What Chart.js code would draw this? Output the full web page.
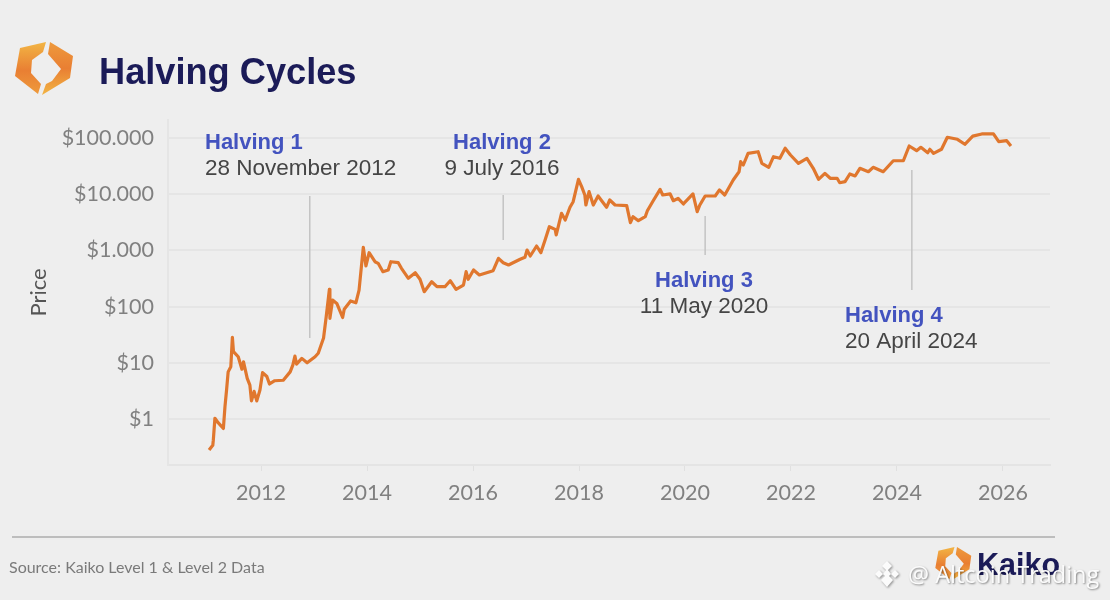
<!DOCTYPE html>
<html><head><meta charset="utf-8">
<script src="https://cdn.jsdelivr.net/npm/chart.js@4"></script>
<style>
html,body{margin:0;padding:0;background:#eeeeee;width:1110px;height:600px;overflow:hidden}
#wrap{position:relative;width:1110px;height:600px;filter:blur(.5px)}
canvas{position:absolute;left:0;top:0}
.t{position:absolute;white-space:nowrap;line-height:1}
#title{left:99px;top:51px;font:bold 36.2px "Liberation Sans",sans-serif;color:#1b1b58}
#source{left:9px;top:557px;font:16px Lato,sans-serif;color:#7a7a7a}
#rule{position:absolute;left:12px;top:536px;width:1043px;height:2px;background:#bdbdbd}
#kaiko{left:977px;top:547px;font:bold 30.5px "Liberation Sans",sans-serif;color:#1b1b58}
#mark{left:908px;top:558px;font:23.5px "Open Sans",sans-serif;color:#fbfbfb;text-shadow:1px 1px 2px rgba(0,0,0,.45)}
svg{position:absolute;left:0;top:0}
</style></head><body>
<div id="wrap">
<canvas id="c" width="1110" height="600"></canvas>
<svg width="1110" height="600">
 <defs>
  <linearGradient id="g1" x1="0" y1="0" x2="0" y2="1"><stop offset="0" stop-color="#f2b544"/><stop offset=".55" stop-color="#e97f33"/><stop offset="1" stop-color="#ee9a3c"/></linearGradient>
  <linearGradient id="g2" x1="0" y1="0" x2="0" y2="1"><stop offset="0" stop-color="#ee9a3c"/><stop offset=".5" stop-color="#e97f33"/><stop offset="1" stop-color="#f2b544"/></linearGradient>
  <g id="logo">
   <polygon fill="url(#g1)" points="20,48 46,42 43,52 32,60 31,73 41,84 38,94 15,76"/>
   <polygon fill="url(#g2)" points="50,42 73,56 70,78 42,95 46,84 52,81 61,69 48,54"/>
  </g>
 </defs>
 <use href="#logo"/>
 <use href="#logo" transform="translate(926 521) scale(.62)"/>
</svg>
<div class="t" id="title">Halving Cycles</div>
<div id="rule"></div>
<div class="t" id="source">Source: Kaiko Level 1 &amp; Level 2 Data</div>
<div class="t" id="kaiko">Kaiko</div>
<svg width="1110" height="600">
 <g fill="#fbfbfb" style="filter:drop-shadow(1px 1px 1px rgba(0,0,0,.4))">
  <polygon points="887,561 892,566 887,571 882,566"/>
  <polygon points="879,570 883,574 879,578 875,574"/>
  <polygon points="895,570 899,574 895,578 891,574"/>
  <polygon points="887,569 891,574 887,578 883,574"/>
  <polygon points="881,580 887,574 893,580 887,587"/>
 </g>
</svg>
<div class="t" id="mark">@ Altcoin Trading</div>
</div>
<script>
const years = [
2011.02,2011.09,2011.10,2011.13,2011.19,2011.29,2011.32,2011.35,2011.38,2011.43,2011.46,2011.48,2011.57,2011.64,2011.67,2011.74,2011.79,2011.82,2011.87,2011.92,2011.98,
2012.03,2012.11,2012.16,2012.26,2012.42,2012.55,2012.60,2012.64,2012.67,2012.77,2012.87,
2013.02,2013.08,2013.18,2013.23,2013.29,2013.30,2013.35,2013.43,2013.54,2013.57,2013.69,2013.79,2013.85,2013.93,2013.98,
2014.04,2014.15,2014.21,2014.30,2014.40,2014.45,2014.59,2014.65,2014.78,2014.91,
2015.00,2015.08,2015.22,2015.32,2015.47,2015.57,2015.68,2015.82,2015.87,2015.91,
2016.01,2016.12,2016.38,2016.48,2016.57,2016.67,2016.89,2016.98,
2017.02,2017.08,2017.20,2017.28,2017.36,2017.44,2017.55,2017.57,2017.67,2017.74,2017.83,2017.89,2017.99,
2018.05,2018.11,2018.13,2018.19,2018.27,2018.36,2018.52,2018.58,2018.68,2018.90,2018.97,
2019.02,2019.12,2019.25,2019.29,2019.40,2019.53,2019.58,2019.72,2019.78,2019.87,2019.97,
2020.15,2020.23,2020.28,2020.38,2020.57,2020.65,2020.75,2020.91,
2021.02,2021.05,2021.10,2021.19,2021.38,2021.45,2021.58,2021.67,2021.79,2021.89,2021.99,
2022.14,2022.30,2022.42,2022.52,2022.64,2022.74,2022.87,2022.92,
2023.02,2023.11,2023.21,2023.30,2023.46,2023.55,2023.74,2023.93,
2024.12,2024.23,2024.37,2024.45,2024.58,2024.62,2024.69,2024.84,2024.95,
2025.14,2025.28,2025.43,2025.60,2025.82,2025.92,2026.07,2026.15];
const prices = [
0.28,0.34,0.42,1.03,0.86,0.68,1.66,3.28,6.9,8.5,28.4,15.8,12.8,7.7,10.4,5.3,4.0,2.1,3.1,2.1,3.28,
6.7,5.7,4.2,4.8,4.9,6.9,9.1,13.2,9.5,12,10,
12.8,14.8,27.6,66,203,62,131,114,64,90,126,117,197,1135,528,
910,629,589,418,448,629,604,480,319,401,
306,184,277,226,226,289,203,242,418,306,
448,365,435,723,604,550,695,753,
1016,795,1197,910,1530,2640,2370,1880,4570,3475,5850,7360,18400,
13600,9680,6420,11100,6420,9290,5850,7880,6420,6240,3110,
3980,3375,3980,5080,7660,12200,9680,10100,7660,8450,6700,
10100,4880,6420,9290,9290,11900,9680,17900,
25100,37900,33100,53400,57000,35500,30100,46500,43500,65600,49800,
35500,43500,28900,18400,23500,19200,19200,16000,
16700,22900,21100,28900,25100,30100,25100,39400,
39400,72000,59400,68300,54700,63000,53400,63000,103000,
94800,77300,108000,118000,118000,85900,89500,72000];
const yTickValues = [1,10,100,1000,10000,100000];
const yTickLabels = ["$1","$10","$100","$1.000","$10.000","$100.000"];
const xTickValues = [2012,2014,2016,2018,2020,2022,2024,2026];
const halvingYears = [2012.92,2016.57,2020.38,2024.28];
const halvingLineTops = [9290,9680,4090,26900];
const halvingLineBottoms = [27.6,1530,828,197];
const halvingNames = ["Halving 1","Halving 2","Halving 3","Halving 4"];
const halvingDates = ["28 November 2012","9 July 2016","11 May 2020","20 April 2024"];

const labelPlugin = {
  id:'halvingLabels',
  afterDatasetsDraw(chart){
    const c = chart.ctx;
    const place = [[205,'left',143,169],[502,'center',143,169],[704,'center',281,307],[845,'left',316,342]];
    c.save(); c.textBaseline='middle';
    place.forEach((p,i)=>{
      c.textAlign=p[1];
      c.font='bold 22px "Liberation Sans",sans-serif'; c.fillStyle='#4353bf';
      c.fillText(halvingNames[i],p[0],p[2]);
      c.font='22.5px "Liberation Sans",sans-serif'; c.fillStyle='#454545';
      c.fillText(halvingDates[i],p[0],p[3]);
    });
    c.restore();
  }
};
const halvingSets = halvingYears.map((yr,i)=>({
  data:[{x:yr,y:halvingLineTops[i]},{x:yr,y:halvingLineBottoms[i]}],
  borderColor:'#c4c4c4',borderWidth:1.5,pointRadius:0,tension:0
}));
new Chart(document.getElementById('c'),{
  type:'line',
  data:{datasets:[
    {data:years.map((y,i)=>({x:y,y:prices[i]})),borderColor:'#e0772e',borderWidth:3.2,pointRadius:0,tension:0,borderJoinStyle:'round'},
    ...halvingSets
  ]},
  plugins:[labelPlugin],
  options:{
    responsive:false,animation:false,
    layout:{padding:{left:26,top:120,right:60,bottom:95}},
    plugins:{legend:{display:false},tooltip:{enabled:false}},
    scales:{
      x:{type:'linear',min:2010.245,max:2026.887,
        afterBuildTicks(s){s.ticks=xTickValues.map(v=>({value:v}));},
        afterFit(s){s.height=40;},
        grid:{drawOnChartArea:false,drawTicks:true,tickLength:6,tickColor:'#e0e0e0'},
        border:{color:'#e4e4e4',width:2},
        ticks:{callback:v=>String(v),font:{family:'Lato',size:21.5},color:'#808080',maxRotation:0,autoSkip:false,padding:9}
      },
      y:{type:'logarithmic',min:0.152,max:209000,
        afterBuildTicks(s){s.ticks=yTickValues.map(v=>({value:v}));},
        afterFit(s){s.width=142;},
        grid:{color:'#e5e5e5',lineWidth:2,drawTicks:false},
        border:{color:'#e5e5e5',width:2},
        title:{display:true,text:'Price',font:{family:'Lato',size:22},color:'#555555',padding:{top:0,bottom:0}},
        ticks:{callback:v=>yTickLabels[yTickValues.indexOf(v)],font:{family:'Lato',size:21.5},color:'#808080',autoSkip:false,padding:14}
      }
    }
  }
});
</script>
</body></html>
